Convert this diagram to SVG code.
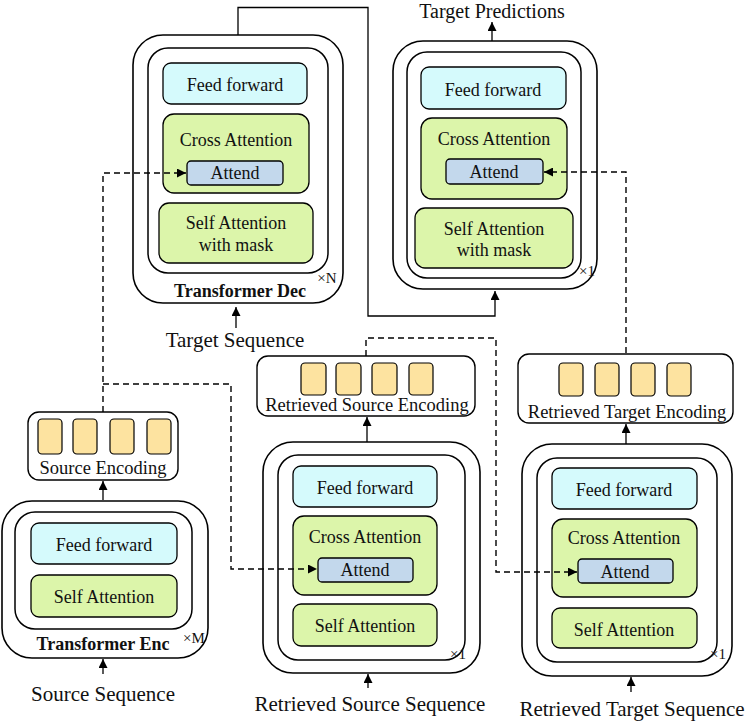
<svg xmlns="http://www.w3.org/2000/svg" width="749" height="722" viewBox="0 0 749 722">
<defs>
<marker id="ah" viewBox="0 0 10 10" refX="10" refY="5" markerWidth="9" markerHeight="9" markerUnits="userSpaceOnUse" orient="auto"><path d="M0,0 L10,5 L0,10 z" fill="#000"/></marker>
<style>
.outer{fill:#fff;stroke:#000;stroke-width:1.6}
.inner{fill:#fff;stroke:#000;stroke-width:1.5}
.ff{fill:#D5FAFC;stroke:#000;stroke-width:1.3}
.ca{fill:#DCF5AA;stroke:#000;stroke-width:1.3}
.sa{fill:#DCF5AA;stroke:#000;stroke-width:1.3}
.at{fill:#C3D8EC;stroke:#000;stroke-width:1.3}
.enc{fill:#fff;stroke:#000;stroke-width:1.4}
.tok{fill:#FDE3A0;stroke:#000;stroke-width:1.2}
.t{font-family:"Liberation Serif","Times New Roman",serif;font-size:18px;fill:#111;text-anchor:middle}
.lbl{font-family:"Liberation Serif","Times New Roman",serif;font-size:21px;fill:#111;text-anchor:middle}
.b{font-family:"Liberation Serif","Times New Roman",serif;font-size:18px;font-weight:bold;fill:#111;text-anchor:middle}
.x{font-family:"Liberation Serif","Times New Roman",serif;font-size:15px;fill:#111;text-anchor:middle}
.ln{fill:none;stroke:#000;stroke-width:1.3}
.ds{fill:none;stroke:#000;stroke-width:1.4;stroke-dasharray:6,4}
</style>
</defs>

<g id="decoder">
<rect class="outer" x="133" y="35" width="210" height="268" rx="30"/>
<rect class="inner" x="148" y="48" width="180" height="225" rx="20"/>
<rect class="ff" x="163" y="63" width="144" height="41" rx="8"/>
<text class="t" x="235" y="91">Feed forward</text>
<rect class="ca" x="163" y="114" width="146" height="79" rx="11"/>
<text class="t" x="236" y="146">Cross Attention</text>
<rect class="at" x="187" y="161" width="96" height="24" rx="4"/>
<text class="t" x="235" y="179">Attend</text>
<rect class="sa" x="159" y="203" width="154" height="60" rx="10"/>
<text class="t" x="236" y="229">Self Attention</text>
<text class="t" x="236" y="251">with mask</text>
<text class="b" x="240" y="297">Transformer Dec</text>
<text class="x" x="327" y="283">×N</text>
</g>

<g id="decoder-final">
<rect class="outer" x="393" y="41" width="204" height="248" rx="30"/>
<rect class="inner" x="407" y="52" width="174" height="226" rx="20"/>
<rect class="ff" x="421" y="67" width="145" height="42" rx="8"/>
<text class="t" x="493" y="96">Feed forward</text>
<rect class="ca" x="421" y="118" width="146" height="81" rx="11"/>
<text class="t" x="494" y="145">Cross Attention</text>
<rect class="at" x="446" y="159" width="97" height="25" rx="4"/>
<text class="t" x="494" y="178">Attend</text>
<rect class="sa" x="415" y="208" width="158" height="60" rx="10"/>
<text class="t" x="494" y="235">Self Attention</text>
<text class="t" x="494" y="256">with mask</text>
<text class="x" x="587" y="276">×1</text>
</g>

<g id="source-encoding">
<rect class="enc" x="28" y="412" width="150" height="68" rx="11"/>
<rect class="tok" x="38" y="419" width="24" height="35" rx="4"/>
<rect class="tok" x="73" y="419" width="24" height="35" rx="4"/>
<rect class="tok" x="110" y="419" width="24" height="35" rx="4"/>
<rect class="tok" x="147" y="419" width="24" height="35" rx="4"/>
<text class="t" x="103" y="474" style="font-size:18.5px">Source Encoding</text>
</g>

<g id="encoder">
<rect class="outer" x="2" y="501" width="206" height="157" rx="30"/>
<rect class="inner" x="15" y="512" width="177" height="117" rx="20"/>
<rect class="ff" x="31" y="523" width="146" height="41" rx="8"/>
<text class="t" x="104" y="551">Feed forward</text>
<rect class="sa" x="31" y="575" width="146" height="42" rx="8"/>
<text class="t" x="104" y="603">Self Attention</text>
<text class="b" x="103" y="650">Transformer Enc</text>
<text class="x" x="194" y="643">×M</text>
</g>

<g id="retrieved-source-encoding">
<rect class="enc" x="257" y="356" width="218" height="60" rx="11"/>
<rect class="tok" x="301" y="363" width="25" height="32" rx="4"/>
<rect class="tok" x="336" y="363" width="25" height="32" rx="4"/>
<rect class="tok" x="372" y="363" width="25" height="32" rx="4"/>
<rect class="tok" x="409" y="363" width="24" height="32" rx="4"/>
<text class="t" x="367" y="411" style="font-size:18.5px">Retrieved Source Encoding</text>
</g>

<g id="retrieved-source-encoder">
<rect class="outer" x="263" y="442" width="217" height="231" rx="30"/>
<rect class="inner" x="278" y="455" width="187" height="205" rx="20"/>
<rect class="ff" x="293" y="466" width="144" height="41" rx="8"/>
<text class="t" x="365" y="494">Feed forward</text>
<rect class="ca" x="293" y="516" width="144" height="79" rx="11"/>
<text class="t" x="365" y="543">Cross Attention</text>
<rect class="at" x="318" y="558" width="95" height="24" rx="4"/>
<text class="t" x="365" y="576">Attend</text>
<rect class="sa" x="293" y="604" width="144" height="42" rx="8"/>
<text class="t" x="365" y="632">Self Attention</text>
<text class="x" x="458" y="659">×1</text>
</g>

<g id="retrieved-target-encoding">
<rect class="enc" x="518" y="354" width="215" height="69" rx="11"/>
<rect class="tok" x="559" y="363" width="24" height="33" rx="4"/>
<rect class="tok" x="595" y="363" width="24" height="33" rx="4"/>
<rect class="tok" x="631" y="363" width="24" height="33" rx="4"/>
<rect class="tok" x="667" y="363" width="24" height="33" rx="4"/>
<text class="t" x="627" y="418" style="font-size:18.5px">Retrieved Target Encoding</text>
</g>

<g id="retrieved-target-encoder">
<rect class="outer" x="522" y="444" width="210" height="232" rx="30"/>
<rect class="inner" x="537" y="458" width="180" height="204" rx="20"/>
<rect class="ff" x="552" y="468" width="145" height="41" rx="8"/>
<text class="t" x="624" y="496">Feed forward</text>
<rect class="ca" x="552" y="519" width="145" height="78" rx="11"/>
<text class="t" x="624" y="544">Cross Attention</text>
<rect class="at" x="578" y="559" width="95" height="24" rx="4"/>
<text class="t" x="625" y="578">Attend</text>
<rect class="sa" x="552" y="608" width="145" height="40" rx="8"/>
<text class="t" x="624" y="636">Self Attention</text>
<text class="x" x="718" y="659">×1</text>
</g>

<g id="labels">
<text class="lbl" x="492" y="18" style="font-size:20px">Target Predictions</text>
<text class="lbl" x="235" y="347">Target Sequence</text>
<text class="lbl" x="103" y="701">Source Sequence</text>
<text class="lbl" x="370" y="711">Retrieved Source Sequence</text>
<text class="lbl" x="632" y="716">Retrieved Target Sequence</text>
</g>

<g id="connectors">
<path class="ln" d="M238,35 V7.5 H368 V316 H495 V291" marker-end="url(#ah)"/>
<path class="ln" d="M492,41 V22" marker-end="url(#ah)"/>
<path class="ln" d="M236,328 V307" marker-end="url(#ah)"/>
<path class="ln" d="M103,500 V481" marker-end="url(#ah)"/>
<path class="ln" d="M103,674 V659" marker-end="url(#ah)"/>
<path class="ln" d="M367,442 V417" marker-end="url(#ah)"/>
<path class="ln" d="M368,688 V674" marker-end="url(#ah)"/>
<path class="ln" d="M626,444 V424" marker-end="url(#ah)"/>
<path class="ln" d="M631,692 V677" marker-end="url(#ah)"/>
<path class="ds" d="M103,412 V173 H186" marker-end="url(#ah)"/>
<path class="ds" d="M103,384 H231 V569 H317" marker-end="url(#ah)"/>
<path class="ds" d="M366,356 V338 H496 V572 H577" marker-end="url(#ah)"/>
<path class="ds" d="M626,353 V172 H544" marker-end="url(#ah)"/>
</g>
</svg>
